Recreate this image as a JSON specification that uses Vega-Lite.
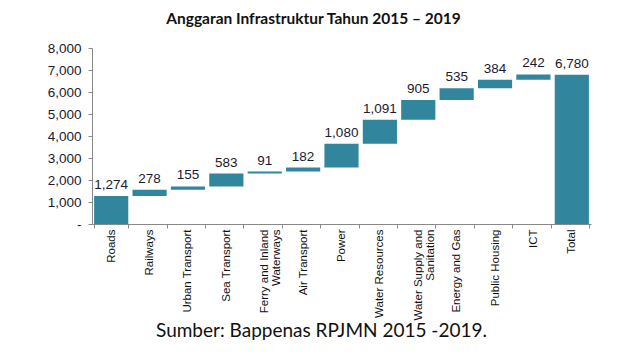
{
  "$schema": "https://vega.github.io/schema/vega-lite/v6.json",
  "width": 499,
  "height": 176,
  "autosize": {"type": "none"},
  "padding": {"left": 92, "top": 48, "right": 49, "bottom": 136},
  "background": "white",
  "config": {
    "view": {"stroke": null},
    "axisY": {
      "labelOverlap": false,
      "labelFont": "Liberation Sans",
      "labelFontSize": 13.5,
      "labelColor": "#1a1a2e",
      "labelPadding": 7,
      "grid": false,
      "tickSize": 4,
      "tickColor": "#888888",
      "domainColor": "#888888"
    }
  },
  "title": {
    "text": "Anggaran Infrastruktur Tahun 2015 – 2019",
    "font": "Lato",
    "fontSize": 15.5,
    "fontWeight": "bold",
    "color": "#111111",
    "anchor": "middle",
    "dx": -28,
    "offset": 22,
    "dy": 20,
    "baseline": "alphabetic"
  },
  "data": {
    "values": [
      {"item": "Roads", "start": 0, "end": 1274, "value": 1274},
      {"item": "Railways", "start": 1274, "end": 1552, "value": 278},
      {"item": "Urban Transport", "start": 1552, "end": 1707, "value": 155},
      {"item": "Sea Transport", "start": 1707, "end": 2290, "value": 583},
      {"item": "Ferry and Inland Waterways", "start": 2290, "end": 2381, "value": 91},
      {"item": "Air Transport", "start": 2381, "end": 2563, "value": 182},
      {"item": "Power", "start": 2563, "end": 3643, "value": 1080},
      {"item": "Water Resources", "start": 3643, "end": 4734, "value": 1091},
      {"item": "Water Supply and Sanitation", "start": 4734, "end": 5639, "value": 905},
      {"item": "Energy and Gas", "start": 5639, "end": 6174, "value": 535},
      {"item": "Public Housing", "start": 6174, "end": 6558, "value": 384},
      {"item": "ICT", "start": 6558, "end": 6800, "value": 242},
      {"item": "Total", "start": 0, "end": 6780, "value": 6780}
    ]
  },
  "encoding": {
    "x": {
      "field": "item",
      "type": "nominal",
      "sort": null,
      "scale": {"paddingInner": 0.11, "paddingOuter": 0.055},
      "axis": {
        "title": "Sumber: Bappenas RPJMN 2015 -2019.",
        "titleFont": "Lato",
        "titleFontSize": 19,
        "titleFontWeight": "normal",
        "titleColor": "#111111",
        "titlePadding": 2,
        "titleX": 229,
        "labelAngle": -90,
        "labelAlign": "right",
        "labelBaseline": "middle",
        "labelFont": "Liberation Sans",
        "labelFontSize": 11.5,
        "labelColor": "#111111",
        "labelPadding": 1,
        "labelLineHeight": 12,
        "labelExpr": "datum.label == 'Ferry and Inland Waterways' ? ['Ferry and Inland', 'Waterways'] : datum.label == 'Water Supply and Sanitation' ? ['Water Supply and', 'Sanitation'] : datum.label",
        "tickBand": "extent",
        "tickSize": 4,
        "tickColor": "#888888",
        "domainColor": "#888888"
      }
    }
  },
  "layer": [
    {
      "mark": {"type": "bar", "color": "#31859c"},
      "encoding": {
        "y": {
          "field": "start",
          "type": "quantitative",
          "scale": {"domain": [0, 8000], "nice": false},
          "axis": {
            "title": null,
            "values": [0, 1000, 2000, 3000, 4000, 5000, 6000, 7000, 8000],
            "labelExpr": "datum.value == 0 ? '-' : format(datum.value, ',')"
          }
        },
        "y2": {"field": "end"}
      }
    },
    {
      "mark": {"type": "text", "baseline": "alphabetic", "dy": -7, "font": "Liberation Sans", "fontSize": 13.5, "color": "#1a1a2e"},
      "encoding": {
        "y": {
          "field": "end",
          "type": "quantitative",
          "axis": {
            "title": null,
            "values": [0, 1000, 2000, 3000, 4000, 5000, 6000, 7000, 8000],
            "labelExpr": "datum.value == 0 ? '-' : format(datum.value, ',')"
          }
        },
        "text": {"field": "value", "type": "quantitative", "format": ","}
      }
    }
  ]
}
